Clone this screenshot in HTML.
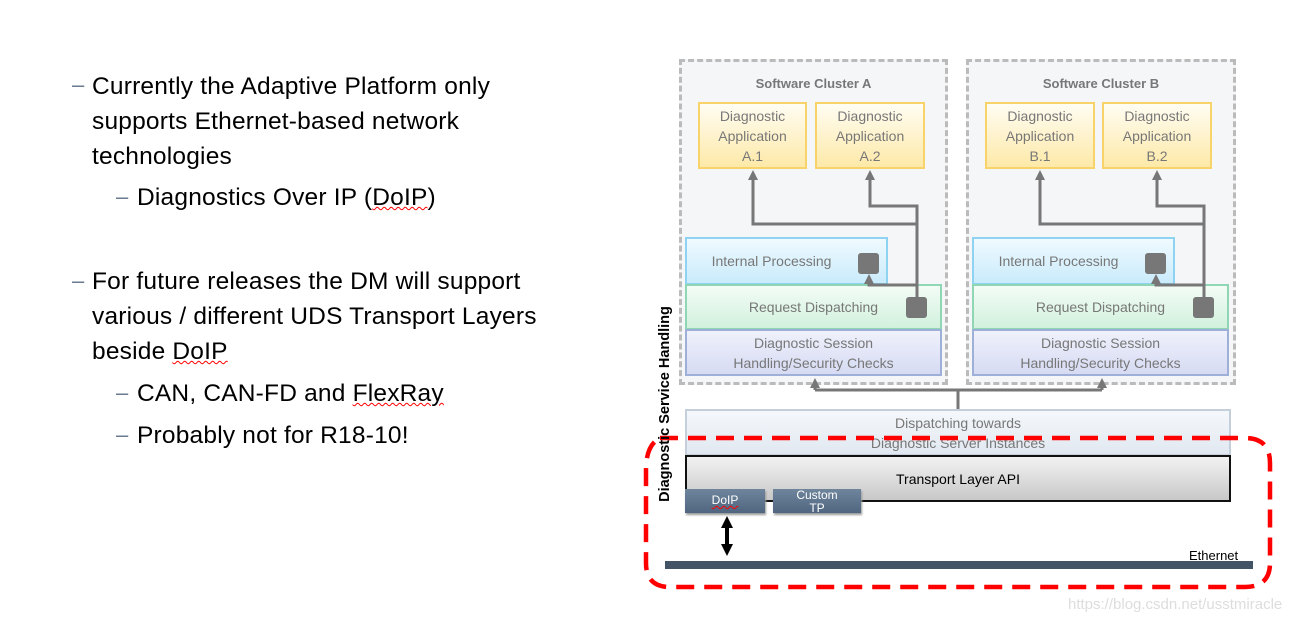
<!DOCTYPE html>
<html><head><meta charset="utf-8"><style>
body{margin:0;width:1303px;height:621px;background:#fff;position:relative;overflow:hidden;font-family:"Liberation Sans",sans-serif}
.t{position:absolute;font-size:24.5px;color:#000;white-space:nowrap;line-height:28px;letter-spacing:0.2px}
.d{position:absolute;color:#6a7a90;font-size:22px}
.b{position:absolute;box-sizing:border-box;display:flex;align-items:center;justify-content:center;text-align:center;font-size:14px;color:#777;line-height:20px}
.app{border:2px solid #f7d36a;background:linear-gradient(#fffdf3,#fde9a8)}
.ip{border:2px solid #8fd3f3;background:linear-gradient(#f0faff,#c9ebfb)}
.rd{border:2px solid #8fd6b4;background:linear-gradient(#f3fcf6,#d2f1dd)}
.ss{border:2px solid #9fb0d8;background:linear-gradient(#eff1fb,#d6dbf3)}
.cl{position:absolute;border:3px dashed #bbb;background:#f5f6f8;box-sizing:border-box}
.ct{position:absolute;font-size:13px;font-weight:bold;color:#777;width:100%;text-align:center;top:14px}
.sq{position:absolute;width:21px;height:21px;background:#777;border-radius:3px}
.tp{position:absolute;box-sizing:border-box;background:linear-gradient(#6f859c,#506680);color:#fff;font-size:12px;text-align:center;line-height:13px;box-shadow:1px 2px 2px #999}
u{text-decoration:underline wavy red 1px}
</style></head><body>
<div class="d" style="left:72px;top:72px">–</div><div class="t" style="left:92px;top:73px">Currently the Adaptive Platform only</div>
<div class="t" style="left:92px;top:108px">supports Ethernet-based network</div>
<div class="t" style="left:92px;top:143px">technologies</div>
<div class="d" style="left:116px;top:184px">–</div><div class="t" style="left:137px;top:184px">Diagnostics Over IP (<u>DoIP</u>)</div>
<div class="d" style="left:72px;top:268px">–</div><div class="t" style="left:92px;top:268px">For future releases the DM will support</div>
<div class="t" style="left:92px;top:303px">various / different UDS Transport Layers</div>
<div class="t" style="left:92px;top:338px">beside <u>DoIP</u></div>
<div class="d" style="left:116px;top:380px">–</div><div class="t" style="left:137px;top:380px">CAN, CAN-FD and <u>FlexRay</u></div>
<div class="d" style="left:116px;top:422px">–</div><div class="t" style="left:137px;top:422px">Probably not for R18-10!</div>

<div class="cl" style="left:679px;top:59px;width:269px;height:326px"><div class="ct">Software Cluster A</div></div>
<div class="cl" style="left:966px;top:59px;width:270px;height:326px"><div class="ct">Software Cluster B</div></div>

<div class="b app" style="left:698px;top:102px;width:109px;height:67px">Diagnostic<br>Application<br>A.1</div>
<div class="b app" style="left:815px;top:102px;width:110px;height:67px">Diagnostic<br>Application<br>A.2</div>
<div class="b app" style="left:985px;top:102px;width:110px;height:67px">Diagnostic<br>Application<br>B.1</div>
<div class="b app" style="left:1102px;top:102px;width:110px;height:67px">Diagnostic<br>Application<br>B.2</div>

<div class="b ip" style="left:685px;top:237px;width:203px;height:48px;padding-right:30px">Internal Processing</div>
<div class="b rd" style="left:685px;top:284px;width:257px;height:46px">Request Dispatching</div>
<div class="b ss" style="left:685px;top:329px;width:257px;height:47px">Diagnostic Session<br>Handling/Security Checks</div>
<div class="b ip" style="left:972px;top:237px;width:203px;height:48px;padding-right:30px">Internal Processing</div>
<div class="b rd" style="left:972px;top:284px;width:257px;height:46px">Request Dispatching</div>
<div class="b ss" style="left:972px;top:329px;width:257px;height:47px">Diagnostic Session<br>Handling/Security Checks</div>

<div class="b" style="left:685px;top:409px;width:546px;height:47px;border:2px solid #c5cfdc;background:linear-gradient(#f5f8fb,#e1e8f1)">Dispatching towards<br>Diagnostic Server Instances</div>
<div class="b" style="left:685px;top:455px;width:546px;height:47px;border:2px solid #111;background:linear-gradient(#f2f2f2,#c8c8c8);color:#000;font-size:14px">Transport Layer API</div>
<div class="tp" style="left:685px;top:489px;width:80px;height:24px;padding-top:5px"><u>DoIP</u></div>
<div class="tp" style="left:773px;top:489px;width:88px;height:24px">Custom<br>TP</div>

<div class="sq" style="left:858px;top:253px"></div><div class="sq" style="left:906px;top:297px"></div>
<div class="sq" style="left:1145px;top:253px"></div><div class="sq" style="left:1193px;top:297px"></div>

<svg width="1303" height="621" style="position:absolute;left:0;top:0" fill="none">
<defs><marker id="a" markerUnits="userSpaceOnUse" markerWidth="12" markerHeight="12" refX="2" refY="6" orient="auto"><path d="M0,1L10,6L0,11z" fill="#777"/></marker>
<marker id="k" markerUnits="userSpaceOnUse" markerWidth="14" markerHeight="14" refX="2" refY="7" orient="auto-start-reverse"><path d="M0,1L12,7L0,13z" fill="#000"/></marker></defs>
<g stroke="#777" stroke-width="3">
<path d="M917,300V224H753V178" marker-end="url(#a)"/><path d="M917,224V206H870V178" marker-end="url(#a)"/>
<path d="M917,285H869V282" marker-end="url(#a)"/>
<path d="M1204,300V224H1040V178" marker-end="url(#a)"/><path d="M1204,224V206H1157V178" marker-end="url(#a)"/>
<path d="M1204,285H1156V282" marker-end="url(#a)"/>
<path d="M958,409V390M815,390H1102"/>
<path d="M815,390V386" marker-end="url(#a)"/><path d="M1102,390V386" marker-end="url(#a)"/>
</g>
<path d="M727,526V546" stroke="#000" stroke-width="4" marker-start="url(#k)" marker-end="url(#k)"/>
<rect x="665" y="561" width="588" height="8" fill="#435466"/>
<path d="M660,438H1245Q1270,438 1270,463V563Q1270,587 1245,587H670Q646,587 646,563V470Q646,445 660,438" stroke="#f00" stroke-width="4.5" stroke-dasharray="18,10"/>
<text x="1189" y="560" font-size="13" fill="#000" font-family="Liberation Sans">Ethernet</text>
<text transform="translate(669,404) rotate(-90)" text-anchor="middle" font-size="14.5" font-weight="bold" fill="#000" font-family="Liberation Sans">Diagnostic Service Handling</text>
<text x="1068" y="609" font-size="15" fill="#ddd" font-family="Liberation Sans">https://blog.csdn.net/usstmiracle</text>
</svg>
</body></html>
